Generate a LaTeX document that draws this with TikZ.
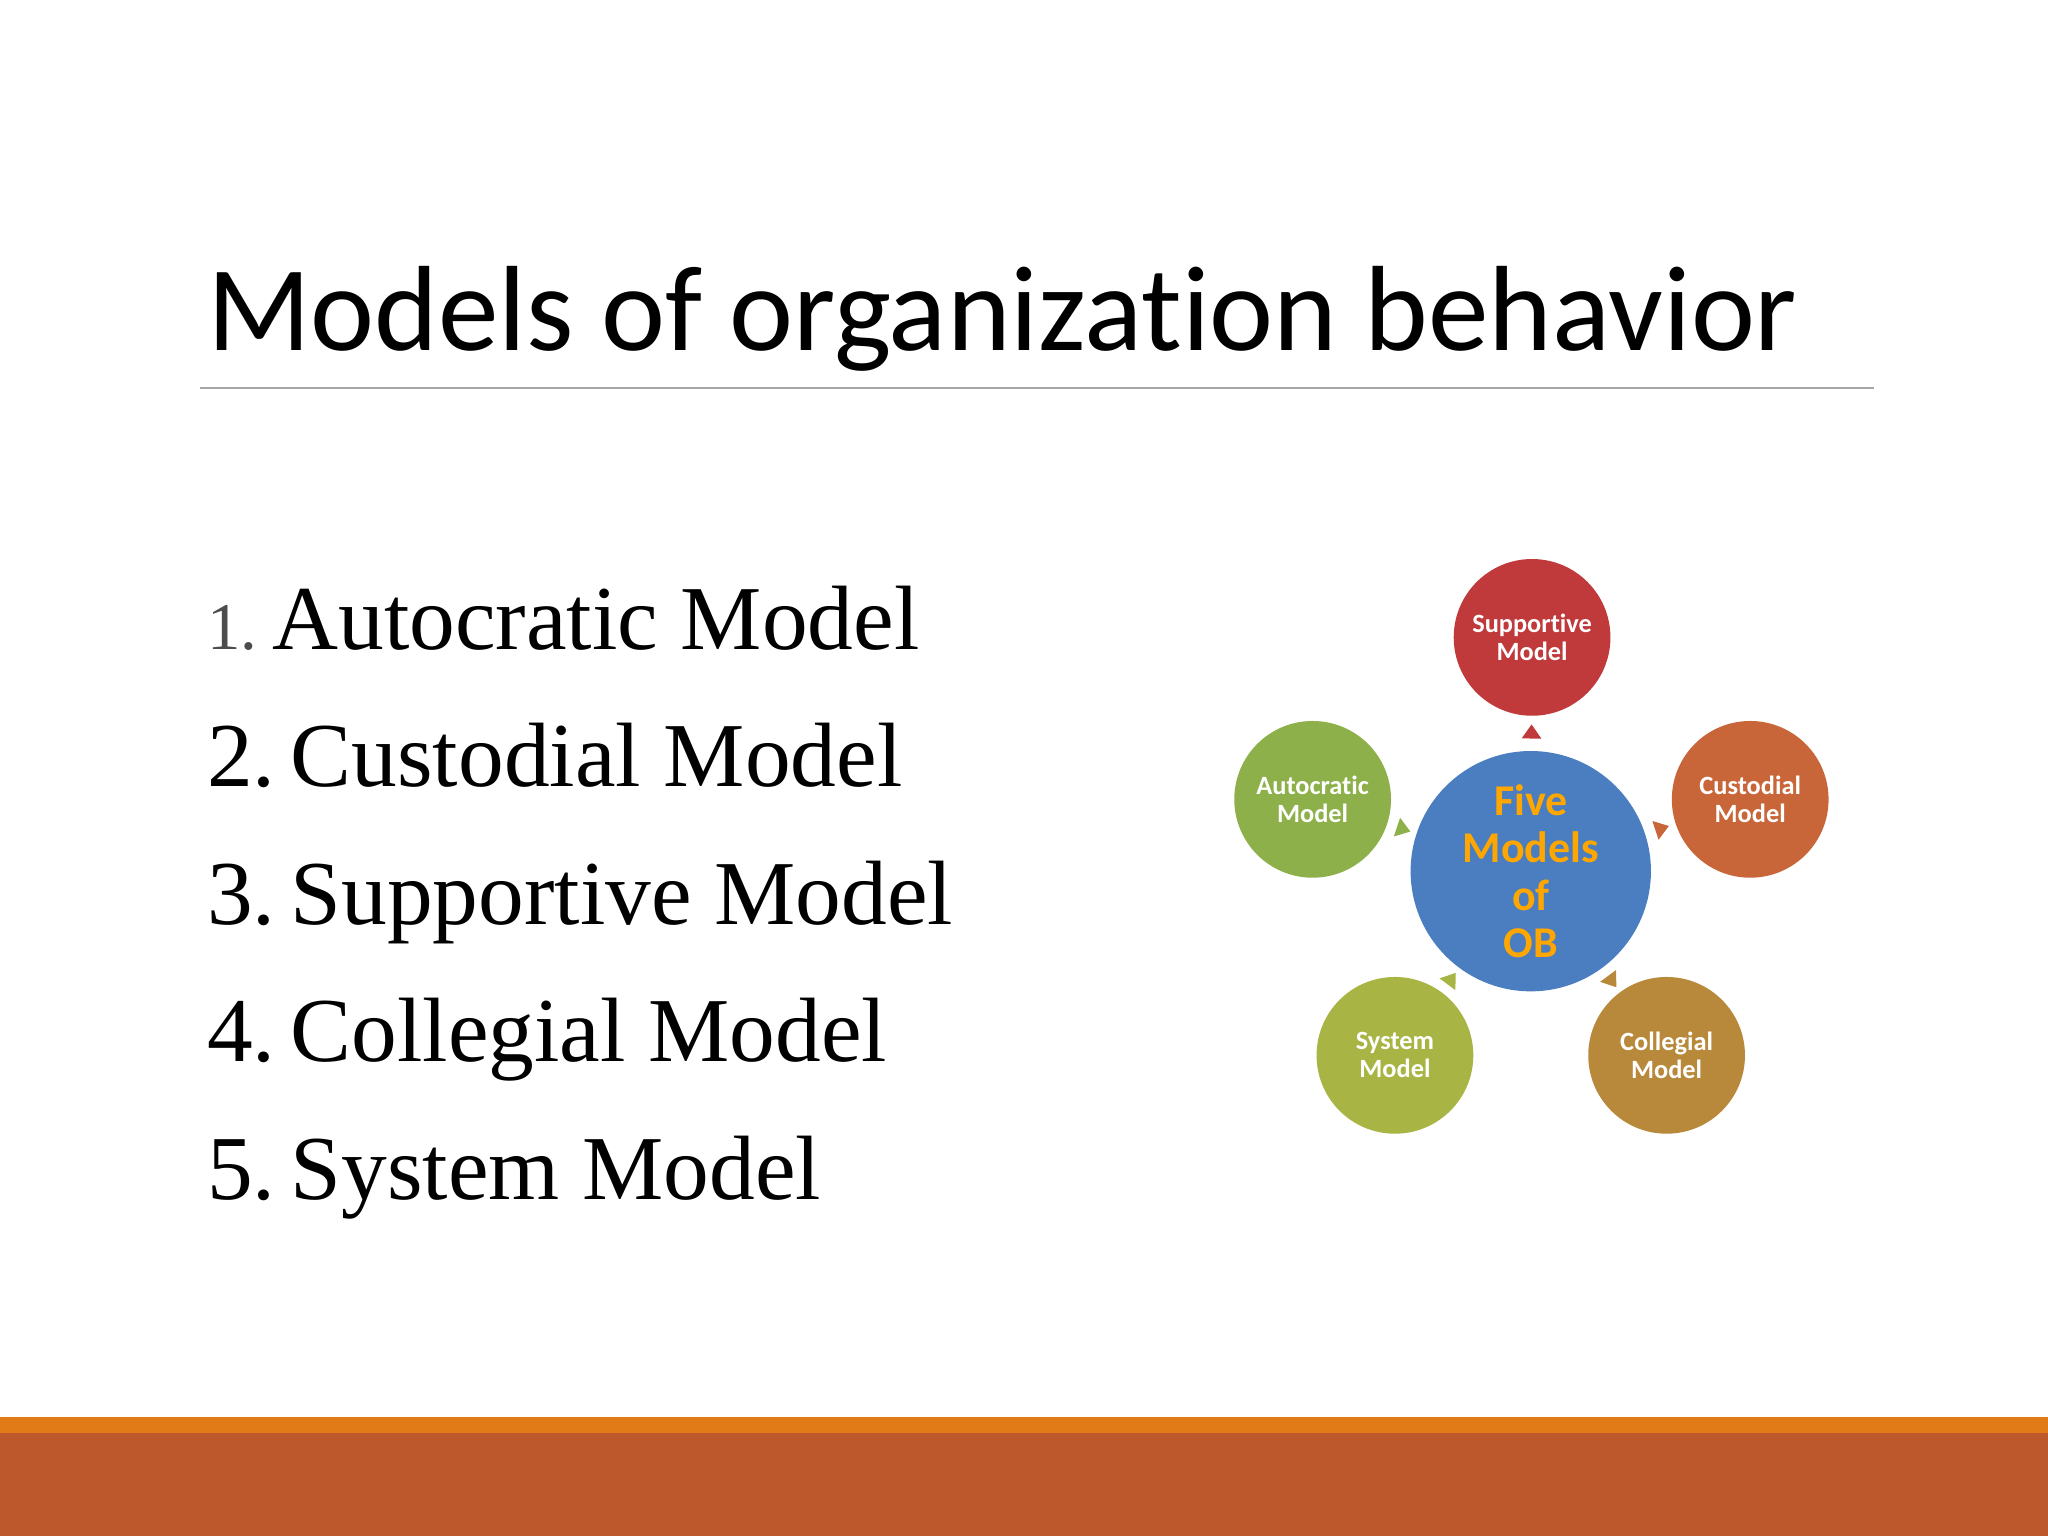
\documentclass[tikz,border=0pt]{standalone}
\usepackage{fontspec}
\setmainfont{Liberation Serif}
\newfontfamily\titlefont[Ligatures=NoCommon]{Carlito}
\usetikzlibrary{shapes.geometric}
\definecolor{cblue}{HTML}{4A7EC0}
\definecolor{cred}{HTML}{C0393B}
\definecolor{ccust}{HTML}{C8663A}
\definecolor{ccoll}{HTML}{B8893A}
\definecolor{csys}{HTML}{A8B443}
\definecolor{caut}{HTML}{8DB04B}
\definecolor{orbar}{HTML}{E07B17}
\definecolor{rust}{HTML}{BD582C}
\tikzset{
 model/.style={circle,minimum size=#1,inner sep=0pt,text=white,font=\titlefont\bfseries\fontsize{7.5}{8}\selectfont,align=center},
 item/.style={anchor=base west,inner sep=0pt,font=\fontsize{26}{28}\selectfont},
 tip/.style={isosceles triangle,isosceles triangle apex angle=70,minimum width=5pt,minimum height=4pt,inner sep=0pt,sloped,fill=#1}
}
\begin{document}
\begin{tikzpicture}[x=0.01306cm,y=-0.01306cm]
\useasboundingbox (0,0) rectangle (1568,1176);
\fill[white] (0,0) rectangle (1568,1176);
\node[anchor=base west,inner sep=0pt,font=\titlefont\fontsize{34.5}{36}\selectfont] (title) at (158,268) {Models of organization behavior};
\draw[gray!70,line width=0.6pt] (153,297) coordinate (l1) -- (1435,297) coordinate (l2);
\node[item] (i1) at (158,497) {{\fontsize{19}{20}\selectfont\color{black!70}1.}\,Autocratic Model};
\node[item] (i2) at (158,602) {2.\,Custodial Model};
\node[item] (i3) at (158,708) {3.\,Supportive Model};
\node[item] (i4) at (158,813) {4.\,Collegial Model};
\node[item] (i5) at (158,918) {5.\,System Model};
\node[model=184*0.01306cm,fill=cblue,text=orange!70!yellow,font=\titlefont\bfseries\fontsize{12.5}{13.5}\selectfont] (c) at (1172,667) {Five\\Models\\of\\OB};
\node[model=120*0.01306cm,fill=cred] (sup) at (1173,488) {Supportive\\Model};
\node[model=120*0.01306cm,fill=ccust] (cus) at (1340,612) {Custodial\\Model};
\node[model=120*0.01306cm,fill=ccoll] (col) at (1276,808) {Collegial\\Model};
\node[model=120*0.01306cm,fill=csys] (sys) at (1068,808) {System\\Model};
\node[model=120*0.01306cm,fill=caut] (aut) at (1005,612) {Autocratic\\Model};
\path (sup) -- (c) node[pos=0.5,tip=cred] {};
\path (cus) -- (c) node[pos=0.5,tip=ccust] {};
\path (col) -- (c) node[pos=0.5,tip=ccoll] {};
\path (sys) -- (c) node[pos=0.5,tip=csys] {};
\path (aut) -- (c) node[pos=0.5,tip=caut] {};
\fill[orbar] (0,1085) rectangle (1568,1097);
\fill[rust] (0,1097) rectangle (1568,1176);
\end{tikzpicture}
\end{document}
